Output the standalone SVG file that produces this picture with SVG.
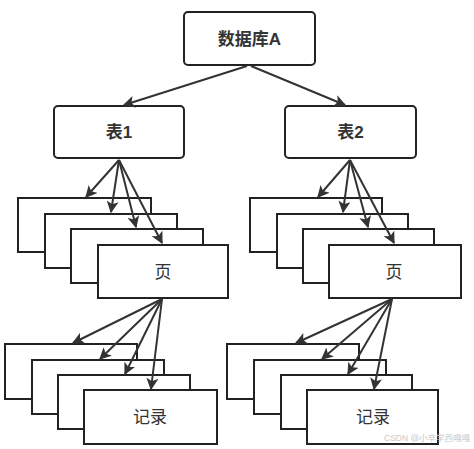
<svg xmlns="http://www.w3.org/2000/svg" width="474" height="449" viewBox="0 0 474 449">
<defs>
<style>
.box{fill:#fff;stroke:#222;stroke-width:2}
.t{font-family:"Liberation Sans","Noto Sans CJK SC",sans-serif;font-size:17px;fill:#333;text-anchor:middle;dominant-baseline:central}
.b{font-weight:bold}
.c{stroke:#333;stroke-width:2;fill:none;marker-end:url(#ah)}
.wm{font-family:"Liberation Sans","Noto Sans CJK SC",sans-serif;font-size:8.5px;fill:#c8c8c8}
</style>
<marker id="ah" viewBox="0 0 10 10" refX="9" refY="5" markerWidth="6" markerHeight="6" orient="auto" markerUnits="strokeWidth">
<path d="M0,0 L10,5 L0,10 L2.5,5 z" fill="#333"/>
</marker>
</defs>
<rect width="474" height="449" fill="#fff"/>
<g id="dbA"><rect class="box" x="184" y="12" width="131" height="53" rx="4"/><text class="t b" x="249.5" y="39">数据库A</text></g>
<g id="table1"><rect class="box" x="54" y="106" width="130" height="52" rx="4"/><text class="t b" x="119" y="132">表1</text></g>
<g id="table2"><rect class="box" x="285" y="106" width="131" height="52" rx="4"/><text class="t b" x="350.5" y="132">表2</text></g>
<g id="pages1">
<rect class="box" x="18" y="198" width="133" height="54"/>
<rect class="box" x="45" y="214" width="132" height="54"/>
<rect class="box" x="71" y="229" width="132" height="54"/>
<rect class="box" x="98" y="245" width="130" height="53"/>
<text class="t" x="163" y="272">页</text>
</g>
<g id="pages2">
<rect class="box" x="250" y="198" width="132" height="54"/>
<rect class="box" x="277" y="214" width="131" height="54"/>
<rect class="box" x="303" y="229" width="131" height="54"/>
<rect class="box" x="329" y="245" width="132" height="53"/>
<text class="t" x="394" y="272">页</text>
</g>
<g id="records1">
<rect class="box" x="5" y="344" width="132" height="55"/>
<rect class="box" x="32" y="360" width="132" height="54"/>
<rect class="box" x="58" y="375" width="132" height="54"/>
<rect class="box" x="84" y="390" width="133" height="54"/>
<text class="t" x="150" y="417">记录</text>
</g>
<g id="records2">
<rect class="box" x="227" y="344" width="132" height="55"/>
<rect class="box" x="254" y="360" width="132" height="54"/>
<rect class="box" x="281" y="375" width="131" height="54"/>
<rect class="box" x="307" y="390" width="131" height="54"/>
<text class="t" x="373" y="417">记录</text>
</g>
<g id="connectors">
<line class="c" x1="247" y1="66" x2="124" y2="105"/>
<line class="c" x1="251" y1="66" x2="345" y2="105"/>
<line class="c" x1="119" y1="160" x2="86" y2="197"/>
<line class="c" x1="119" y1="160" x2="111" y2="212"/>
<line class="c" x1="119" y1="160" x2="136" y2="227"/>
<line class="c" x1="119" y1="160" x2="162" y2="243"/>
<line class="c" x1="350" y1="160" x2="318" y2="197"/>
<line class="c" x1="350" y1="160" x2="343" y2="212"/>
<line class="c" x1="350" y1="160" x2="368" y2="227"/>
<line class="c" x1="350" y1="160" x2="394" y2="243"/>
<line class="c" x1="162" y1="299" x2="73" y2="343"/>
<line class="c" x1="162" y1="299" x2="100" y2="359"/>
<line class="c" x1="162" y1="299" x2="125" y2="374"/>
<line class="c" x1="162" y1="299" x2="151" y2="389"/>
<line class="c" x1="392" y1="299" x2="296" y2="343"/>
<line class="c" x1="392" y1="299" x2="322" y2="359"/>
<line class="c" x1="392" y1="299" x2="348" y2="374"/>
<line class="c" x1="392" y1="299" x2="374" y2="389"/>
</g>
<text class="wm" x="384" y="441">CSDN @小辛学西嘎嘎</text>
</svg>
